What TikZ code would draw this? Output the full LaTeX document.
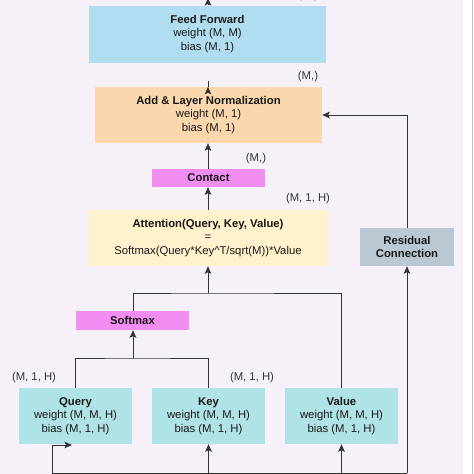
\documentclass[tikz,border=0pt]{standalone}
\usepackage{fontspec}
\setmainfont{Liberation Sans}
\usetikzlibrary{arrows.meta}
\definecolor{bgpurple}{HTML}{F6F1F8}
\definecolor{ffblue}{HTML}{B1DDF0}
\definecolor{addpeach}{HTML}{FAD7AC}
\definecolor{pinkbox}{HTML}{F28DF2}
\definecolor{attnyellow}{HTML}{FFF2CC}
\definecolor{resgray}{HTML}{BAC8D3}
\definecolor{qkvteal}{HTML}{B0E3E6}
\begin{document}
\begin{tikzpicture}[x=1pt,y=-1pt,
  box/.style={minimum width=113pt,inner sep=0pt,align=center,text=black!90,
    font=\fontsize{11.3}{13.6}\selectfont},
  lbl/.style={text=black!80,font=\fontsize{11.3}{13.6}\selectfont},
  arr/.style={-{Stealth[length=7.5pt,width=6.5pt,inset=1.5pt]},line width=1pt,draw=black!80},
  ln/.style={line width=1pt,draw=black!80}]
\useasboundingbox (0,0) rectangle (474,474);
\fill[bgpurple] (0,0) rectangle (463,474);
\draw[black!25,line width=0.6pt] (472,0) -- (472,474);

% blocks
\node[box,fill=ffblue,minimum width=237pt,minimum height=57pt] (ff) at (207.5,34)
  {\textbf{Feed Forward}\\weight (M, M)\\bias (M, 1)};
\node[box,fill=addpeach,minimum width=227pt,minimum height=56pt] (add) at (208.5,115)
  {\textbf{Add \& Layer Normalization}\\weight (M, 1)\\bias (M, 1)};
\node[box,fill=pinkbox,minimum height=18pt] (contact) at (208.5,178) {\textbf{Contact}};
\node[box,fill=attnyellow,minimum width=240pt,minimum height=56pt] (attn) at (208,238)
  {\textbf{Attention(Query, Key, Value)}\\=\\Softmax(Query*Key\^{}T/sqrt(M))*Value};
\node[box,fill=resgray,minimum width=94pt,minimum height=38pt] (res) at (407,247)
  {\textbf{Residual}\\\textbf{Connection}};
\node[box,fill=pinkbox,minimum height=19pt] (softmax) at (132.5,320.5) {\textbf{Softmax}};
\foreach \n/\t/\x in {query/Query/75.5,key/Key/208.5,value/Value/341.5}
  \node[box,fill=qkvteal,minimum height=56pt] (\n) at (\x,416)
    {\textbf{\t}\\weight (M, M, H)\\bias (M, 1, H)};

% shape labels
\node[lbl] (s0) at (308,-4) {(M,)};
\node[lbl] (s1) at (308,77) {(M,)};
\node[lbl] (s2) at (256,159) {(M,)};
\node[lbl] (s3) at (308,199) {(M, 1, H)};
\node[lbl] (s4) at (34,378) {(M, 1, H)};
\node[lbl] (s5) at (252,378) {(M, 1, H)};

% joins
\coordinate (out) at (208,-2);
\coordinate (qkjoin) at (133,358);
\coordinate (svjoin) at (208,293);
\coordinate (inl) at (52,473);
\coordinate (inr) at (407,473);
\coordinate (qin) at (72,445);

\draw[arr] (ff.north -| out) -- (out);
\draw[arr] (add.north -| out) -- (add.north -| out |- ff.south);
\draw[arr] (contact.north -| out) -- (out |- add.south);
\draw[arr] (attn.north) -- (out |- contact.south);
\draw[arr] (res.north) |- (add.east);

\draw[ln] (query.north) |- (qkjoin) -| (key.north);
\draw[arr] (qkjoin) -- (softmax.south -| qkjoin);
\draw[ln] (softmax.north -| qkjoin) |- (svjoin) -| (value.north);
\draw[arr] (svjoin) -- (attn.south);

\draw[ln] (inl) -- (inr);
\draw[arr] (inl) |- (qin);
\draw[arr] (key.south |- inl) -- (key.south);
\draw[arr] (value.south |- inl) -- (value.south);
\draw[arr] (inr) -- (res.south);
\end{tikzpicture}
\end{document}
